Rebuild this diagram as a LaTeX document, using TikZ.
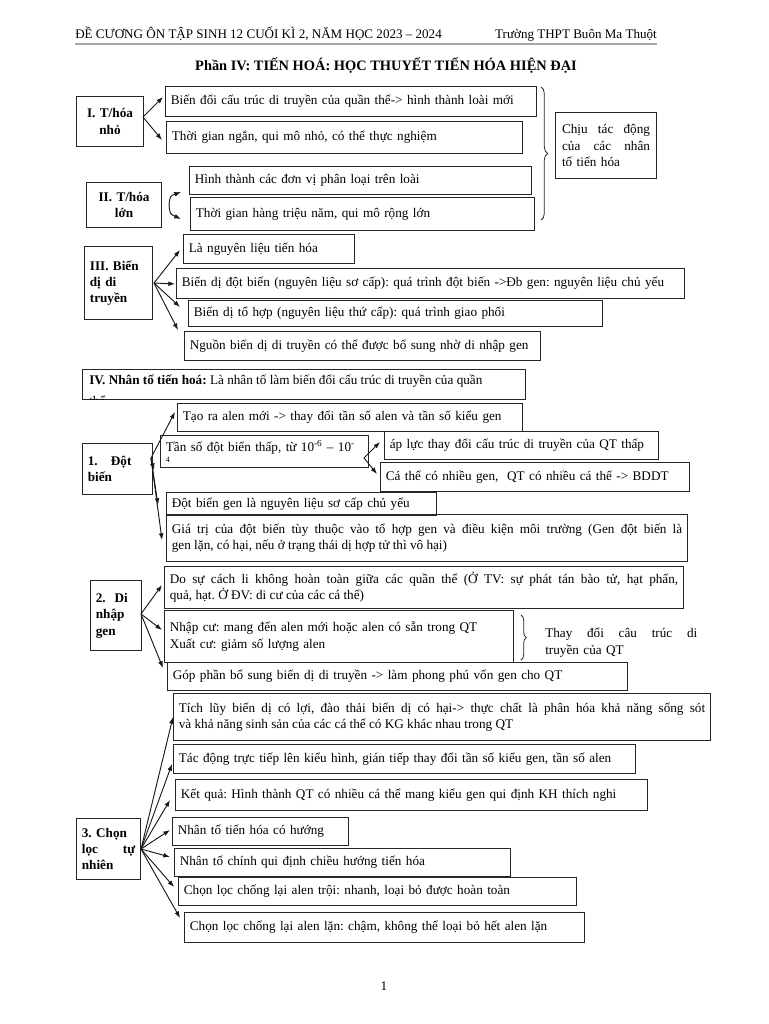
\documentclass[tikz,border=0pt]{standalone}
\usepackage{fontspec}
\setmainfont{Liberation Serif}
\usetikzlibrary{arrows.meta,decorations.pathreplacing,calc}
\frenchspacing
\newcommand\bodyfont{\fontsize{9.9}{12.3}\selectfont}
\newcommand\mkbox[7][]{%
  \pgfmathsetlengthmacro\bxw{(#5-#3)*0.75pt}%
  \pgfmathsetlengthmacro\bxtw{(#5-#3)*0.75pt-8pt}%
  \pgfmathsetlengthmacro\bxh{(#6-#4)*0.75pt}%
  \node[bx,minimum width=\bxw,text width=\bxtw,minimum height=\bxh,#1] (#2) at (#3,#4) {#7};}
\tikzset{
  bx/.style={draw=black!85, line width=0.8pt, anchor=north west, inner xsep=4pt, inner ysep=1pt, align=left, font=\bodyfont},
  lbl/.style={font=\bodyfont\bfseries},
  arr/.style={-{Latex[length=5pt,width=3.6pt]}, line width=0.7pt, black!90},
  brc/.style={decorate, line width=0.6pt, black!85},
}
\begin{document}
\begin{tikzpicture}[x=0.75pt,y=-0.75pt]
\fill[white] (0,0) rectangle (768,1024);
\useasboundingbox (0,0) rectangle (768,1024);

% header
\node[anchor=base west, inner sep=0pt, font=\fontsize{9.8}{11}\selectfont] (hdrL) at (75,39) {ĐỀ CƯƠNG ÔN TẬP SINH 12 CUỐI KÌ 2, NĂM HỌC 2023 – 2024};
\node[anchor=base east, inner sep=0pt, font=\fontsize{9.8}{11}\selectfont] (hdrR) at (657,39) {Trường THPT Buôn Ma Thuột};
\draw[gray!70, line width=1.1pt] (75,44) -- (657,44);
\node[font=\fontsize{10.8}{12}\selectfont\bfseries] (title) at (386,66) {Phần IV: TIẾN HOÁ: HỌC THUYẾT TIẾN HÓA HIỆN ĐẠI};

% I / II
\mkbox[lbl,align=center]{Ib}{76}{96}{143}{146}{I. T/hóa\\nhỏ}
\mkbox{A1}{165}{86}{536}{116}{Biến đổi cấu trúc di truyền của quần thể-> hình thành loài mới}
\mkbox{A2}{166}{121}{522}{153}{Thời gian ngắn, qui mô nhỏ, có thể thực nghiệm}
\mkbox[lbl,align=center]{IIb}{86}{182}{161}{227}{II. T/hóa\\lớn}
\mkbox{B1}{189}{166}{531}{194}{Hình thành các đơn vị phân loại trên loài}
\mkbox{B2}{190}{197}{534}{230}{Thời gian hàng triệu năm, qui mô rộng lớn}
\mkbox[text width=66pt]{Cb}{555}{112}{656}{178}{Chịu\hfill tác\hfill động\\của\hfill các\hfill nhân\\tố tiến hóa}
\coordinate (brT) at (541,87);
\coordinate (brB) at (541,220);
\draw[brc, decoration={brace, amplitude=5pt}] (brT) -- (brB);

\coordinate (oI) at (143,117);
\draw[arr] (oI) -- ($(A1.north west)+(-2,11)$);
\draw[arr] (oI) -- ($(A2.north west)+(-4,19)$);
\coordinate (oII) at (169,205);
\draw[arr] (oII) .. controls (170,196) .. ($(B1.north west)+(-8,26)$);
\draw[arr] (oII) .. controls (170,214) .. ($(B2.north west)+(-9,22)$);

% III
\mkbox[lbl]{IIIb}{84}{246}{152}{319}{III. Biến\\dị di\\truyền}
\mkbox{C1}{183}{234}{354}{263}{Là nguyên liệu tiến hóa}
\mkbox{C2}{176}{268}{684}{298}{Biến dị đột biến (nguyên liệu sơ cấp): quá trình đột biến ->Đb gen: nguyên liệu chủ yếu}
\mkbox{C3}{188}{300}{602}{326}{Biến dị tổ hợp (nguyên liệu thứ cấp): quá trình giao phối}
\mkbox{C4}{184}{331}{540}{360}{Nguồn biến dị di truyền có thể được bổ sung nhờ di nhập gen}
\coordinate (oIII) at (154,283);
\draw[arr] (oIII) -- ($(C1.north west)+(-3,16)$);
\draw[arr] (oIII) -- ($(C2.north west)+(-1,16)$);
\draw[arr] (oIII) -- ($(C3.north west)+(-8,7)$);
\draw[arr] (oIII) -- ($(C4.north west)+(-6,-1)$);

% IV
\mkbox{IVb}{82}{369}{525}{399}{}
\begin{scope}
\clip ($(IVb.north west)+(1,1)$) rectangle ($(IVb.south east)+(-1,-1)$);
\node[anchor=north west, inner sep=0pt, align=left, font=\bodyfont] (IVt) at (89,375) {\textbf{IV. Nhân tố tiến hoá:} Là nhân tố làm biến đổi cấu trúc di truyền của quần\\[3pt]thể};
\end{scope}

% 1. Dot bien
\mkbox[lbl]{D0}{82}{443}{152}{494}{1.\ \ \ Đột\\biến}
\mkbox{D1}{177}{403}{522}{431}{Tạo ra alen mới -> thay đổi tần số alen và tần số kiểu gen}
\mkbox{D2}{160}{435}{368}{467}{Tần số đột biến thấp, từ 10\textsuperscript{-6} – 10\textsuperscript{-}\\[-4pt]{\fontsize{6}{6}\selectfont 4}}
\mkbox{D3}{384}{431}{658}{459}{áp lực thay đổi cấu trúc di truyền của QT thấp}
\mkbox{D4}{380}{462}{689}{491}{Cá thể có nhiều gen,\ \ QT có nhiều cá thể -> BDDT}
\mkbox{D5}{166}{492}{436}{515}{Đột biến gen là nguyên liệu sơ cấp chủ yếu}
\mkbox[align=justify]{D6}{166}{514}{687}{561}{Giá trị của đột biến tùy thuộc vào tổ hợp gen và điều kiện môi trường (Gen đột biến là\linebreak gen lặn, có hại, nếu ở trạng thái dị hợp tử thì vô hại)}
\coordinate (o1) at (151,458);
\draw[arr] (o1) -- ($(D1.north west)+(-2,9)$);
\draw[arr] (o1) -- ($(D2.south west)+(-6,2)$);
\draw[arr] (o1) -- ($(D5.north west)+(-8,13)$);
\draw[arr] (o1) -- ($(D6.north west)+(-4,26)$);
\coordinate (oD2) at (364,458);
\draw[arr] (oD2) -- ($(D3.north west)+(-4,11)$);
\draw[arr] (oD2) -- ($(D4.north west)+(-3,12)$);

% 2. Di nhap gen
\mkbox[lbl]{E0}{90}{580}{141}{650}{2.\ \ Di\\nhập\\gen}
\mkbox[align=justify]{E1}{164}{566}{683}{608}{Do sự cách li không hoàn toàn giữa các quần thể (Ở TV: sự phát tán bào tử, hạt phấn,\linebreak quả, hạt. Ở ĐV: di cư của các cá thể)}
\mkbox{E2}{164}{610}{513}{662}{Nhập cư: mang đến alen mới hoặc alen có sẵn trong QT\\Xuất cư: giảm số lượng alen}
\mkbox{E3}{167}{662}{627}{690}{Góp phần bổ sung biến dị di truyền -> làm phong phú vốn gen cho QT}
\coordinate (br2T) at (521,615);
\coordinate (br2B) at (521,660);
\draw[brc, decoration={brace, amplitude=4pt}] (br2T) -- (br2B);
\node[anchor=north west, inner sep=0pt, text width=114pt, align=left, font=\bodyfont] (Et) at (545,628) {Thay\hfill đổi\hfill câu\hfill trúc\hfill di\\truyền của QT};
\coordinate (o2) at (141,614);
\draw[arr] (o2) -- ($(E1.north west)+(-2,19)$);
\draw[arr] (o2) -- ($(E2.north west)+(-2,20)$);
\draw[arr] (o2) -- ($(E3.north west)+(-4,6)$);

% 3. Chon loc tu nhien
\mkbox[lbl]{F0}{76}{818}{140}{879}{3. Chọn\\lọc\hfill tự\\nhiên}
\mkbox[align=justify]{F1}{173}{693}{710}{740}{Tích lũy biến dị có lợi, đào thải biến dị có hại-> thực chất là phân hóa khả năng sống sót\linebreak và khả năng sinh sản của các cá thể có KG khác nhau trong QT}
\mkbox{F2}{173}{744}{635}{773}{Tác động trực tiếp lên kiểu hình, gián tiếp thay đổi tần số kiểu gen, tần số alen}
\mkbox{F3}{175}{779}{647}{810}{Kết quả: Hình thành QT có nhiều cá thể mang kiểu gen qui định KH thích nghi}
\mkbox{F4}{172}{817}{348}{845}{Nhân tố tiến hóa có hướng}
\mkbox{F5}{174}{848}{510}{876}{Nhân tố chính qui định chiều hướng tiến hóa}
\mkbox{F6}{178}{877}{576}{905}{Chọn lọc chống lại alen trội: nhanh, loại bỏ được hoàn toàn}
\mkbox{F7}{184}{912}{584}{942}{Chọn lọc chống lại alen lặn: chậm, không thể loại bỏ hết alen lặn}
\coordinate (o3) at (141,849);
\draw[arr] (o3) -- ($(F1.north west)+(0,24)$);
\draw[arr] (o3) -- ($(F2.north west)+(-1,20)$);
\draw[arr] (o3) -- ($(F3.north west)+(-5,21)$);
\draw[arr] (o3) -- ($(F4.north west)+(-2,13)$);
\draw[arr] (o3) -- ($(F5.north west)+(-4,9)$);
\draw[arr] (o3) -- ($(F6.north west)+(-4,10)$);
\draw[arr] (o3) -- ($(F7.north west)+(-4,6)$);

\node[font=\fontsize{9.9}{11}\selectfont] (pg) at (384,986) {1};
\end{tikzpicture}
\end{document}
